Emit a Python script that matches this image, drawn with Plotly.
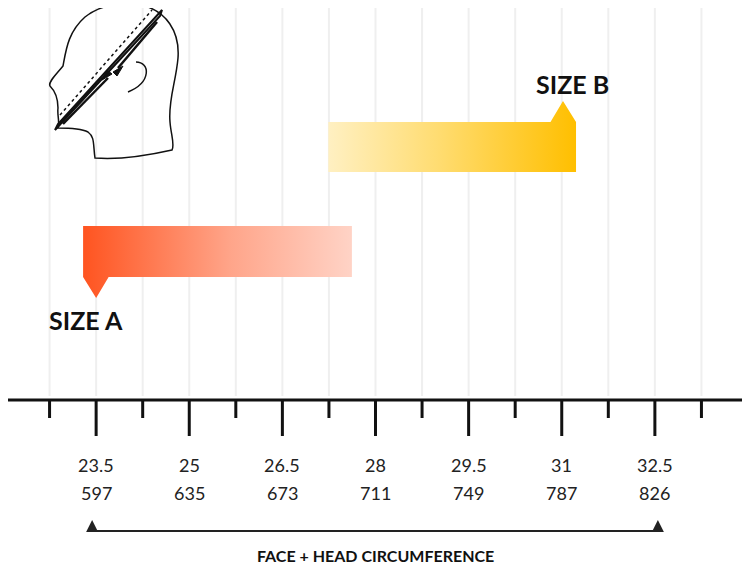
import plotly.graph_objects as go

in_labels = ["23.5", "25", "26.5", "28", "29.5", "31", "32.5"]
mm_labels = ["597", "635", "673", "711", "749", "787", "826"]
major_ticks = [22.0, 23.5, 25.0, 26.5, 28.0, 29.5, 31.0, 32.5, 34.0]
minor_ticks = [22.75, 24.25, 25.75, 27.25, 28.75, 30.25, 31.75, 33.25]
size_names = ["SIZE A", "SIZE B"]
size_start = [23.29, 27.24]
size_end = [27.62, 31.23]
size_mark = [23.5, 31.02]

PX = 745 / 12.0
OFF = 8  # page body margin compensation
X0 = 22 - 3 / PX + OFF / PX
X1 = 34 + 2 / PX + OFF / PX
nw = 12.5 / PX

fig = go.Figure()
FONT = "Lato"

all_ticks = sorted(major_ticks + minor_ticks)
for t in all_ticks[1:-1]:
    fig.add_shape(type="line", x0=t, x1=t, y0=0, y1=396, xref="x", yref="y",
                  line=dict(color="#efefef", width=2), layer="below")

ax0, ax1, am = size_start[0], size_end[0], size_mark[0]
fig.add_trace(go.Scatter(
    x=[ax0, ax1, ax1, am + nw, am, ax0, ax0],
    y=[226, 226, 277, 277, 298, 277, 226],
    fill="toself", mode="lines", line=dict(width=0),
    fillgradient=dict(type="horizontal", colorscale=[[0, "#ff5420"], [0.55, "#ffa58a"], [1, "#ffd3c6"]]),
    hoverinfo="skip", showlegend=False))
bx0, bx1, bm = size_start[1], size_end[1], size_mark[1]
fig.add_trace(go.Scatter(
    x=[bx0, bm - nw, bm, bx1, bx1, bx0, bx0],
    y=[122, 122, 101, 122, 172, 172, 122],
    fill="toself", mode="lines", line=dict(width=0),
    fillgradient=dict(type="horizontal", colorscale=[[0, "#fff0c2"], [0.45, "#ffdc70"], [1, "#ffbf00"]]),
    hoverinfo="skip", showlegend=False))

fig.add_annotation(x=ax0 - 36 / PX, y=320, text="<b>" + size_names[0] + "</b>", showarrow=False,
                   xanchor="left", yanchor="middle", font=dict(family=FONT, size=25, color="#111"))
fig.add_annotation(x=bx1 + 35 / PX, y=84, text="<b>" + size_names[1] + "</b>", showarrow=False,
                   xanchor="right", yanchor="middle", font=dict(family=FONT, size=25, color="#111"))

fig.add_shape(type="line", x0=22, x1=34, y0=400, y1=400, line=dict(color="#111", width=3))
for t in major_ticks:
    fig.add_shape(type="line", x0=t, x1=t, y0=399, y1=436, line=dict(color="#111", width=3))
for t in minor_ticks:
    fig.add_shape(type="line", x0=t, x1=t, y0=399, y1=418, line=dict(color="#111", width=3))
for t, a, b in zip(major_ticks[1:-1], in_labels, mm_labels):
    fig.add_annotation(x=t, y=465, text=a, showarrow=False, font=dict(family=FONT, size=18, color="#222"))
    fig.add_annotation(x=t, y=493, text=b, showarrow=False, font=dict(family=FONT, size=18, color="#222"))
fig.add_annotation(x=22 - 2 / PX, y=465, text="<b>IN</b>", showarrow=False, xanchor="left",
                   font=dict(family=FONT, size=17, color="#111"))
fig.add_annotation(x=22 - 2 / PX, y=493, text="<b>MM</b>", showarrow=False, xanchor="left",
                   font=dict(family=FONT, size=17, color="#111"))

L, R = major_ticks[1] - 4 / PX, major_ticks[7] + 3 / PX
fig.add_shape(type="line", x0=L, x1=R, y0=531, y1=531, line=dict(color="#222", width=2))
tw = 6 / PX
for c in (L, R):
    fig.add_shape(type="path", path=f"M {c-tw},532 L {c},520 L {c+tw},532 Z",
                  fillcolor="#222", line=dict(width=0))
fig.add_annotation(x=(L + R) / 2, y=555, text="<b>FACE + HEAD CIRCUMFERENCE</b>", showarrow=False,
                   font=dict(family=FONT, size=16, color="#111"))

head = ("M 95,158 C 93,145 95,137 88,132 C 80,128 66,128 58,128 C 60,122 57,115 58,108 "
        "C 58,100 56,92 50,86 C 48,82 55,76 63,66 C 66,50 68,32 85,17 C 100,5 125,0 145,6 "
        "C 165,12 180,30 178,58 C 176,82 168,100 170,122 C 171,135 175,145 172,150 "
        "C 150,155 120,160 95,158 Z")
fig.add_shape(type="path", path=head, xref="x2", yref="y", line=dict(color="#111", width=1.5))
fig.add_shape(type="path", path="M 136,62 C 150,62 152,82 128,92", xref="x2", yref="y",
              line=dict(color="#111", width=1.5))
fig.add_shape(type="path", path="M 55,130 L 58,124 L 162,10 L 160,16 Z", xref="x2", yref="y",
              line=dict(color="#111", width=2))
fig.add_shape(type="line", x0=60, y0=115, x1=152, y1=10, xref="x2", yref="y",
              line=dict(color="#111", width=1.5, dash="dot"))
fig.add_shape(type="line", x0=63, y0=124, x1=108, y1=78, xref="x2", yref="y",
              line=dict(color="#111", width=2.5))
fig.add_shape(type="line", x0=157, y0=22, x1=118, y1=68, xref="x2", yref="y",
              line=dict(color="#111", width=2.5))
fig.add_shape(type="path", path="M 112,74 L 102,80 L 107,70 Z", xref="x2", yref="y",
              fillcolor="#111", line=dict(color="#111", width=1))
fig.add_shape(type="path", path="M 113,72 L 123,66 L 117,76 Z", xref="x2", yref="y",
              fillcolor="#111", line=dict(color="#111", width=1))

fig.update_layout(
    width=750, height=571, margin=dict(l=0, r=0, t=0, b=0),
    plot_bgcolor="white", paper_bgcolor="white",
    xaxis=dict(range=[X0, X1], visible=False, fixedrange=True),
    xaxis2=dict(range=[OFF, 750 + OFF], visible=False, overlaying="x", fixedrange=True),
    yaxis=dict(range=[571 + OFF, OFF], visible=False, fixedrange=True),
)
fig.write_html("out.html")
